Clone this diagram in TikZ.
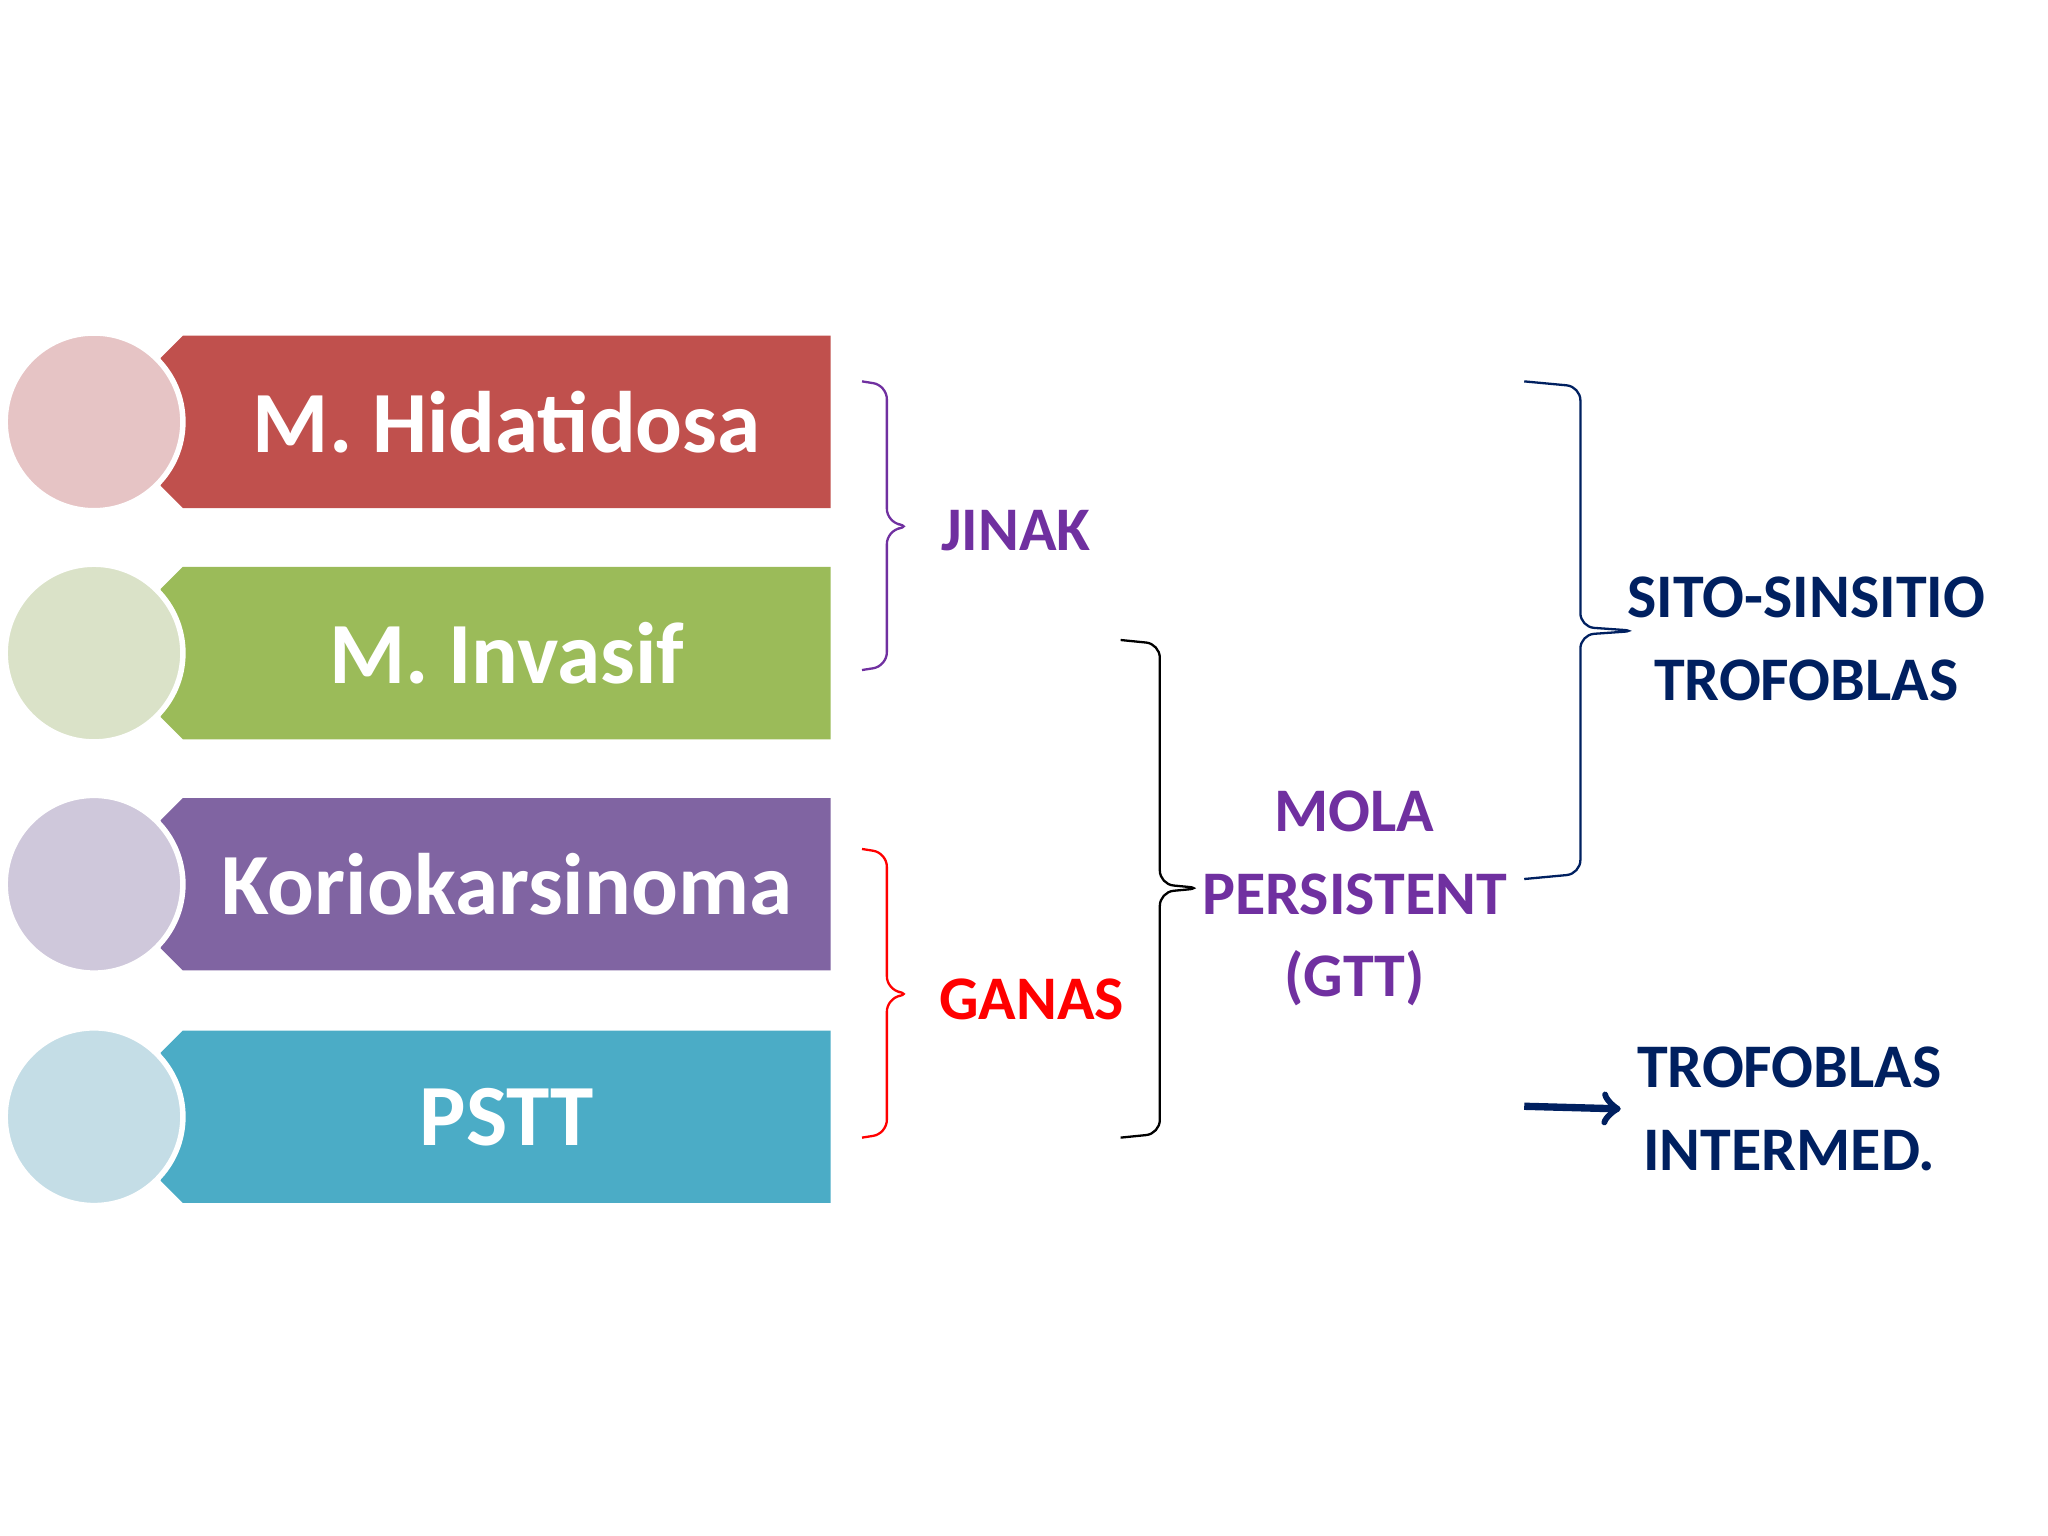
\documentclass[tikz,border=0pt]{standalone}
\usepackage{fontspec}
\setmainfont{Carlito}
\usetikzlibrary{positioning}
\definecolor{barred}{HTML}{C0504D}
\definecolor{bargreen}{HTML}{9BBB59}
\definecolor{barpurple}{HTML}{8064A2}
\definecolor{barteal}{HTML}{4BACC6}
\definecolor{labpurple}{HTML}{7030A0}
\definecolor{navy}{HTML}{002060}
\begin{document}
\begin{tikzpicture}[x=0.01cm, y=-0.01cm,
    bartext/.style={text=white, font=\bfseries\fontsize{19}{22}\selectfont},
    bubble/.style={circle, draw=white, line width=1.2pt, minimum size=1.36cm, inner sep=0pt},
    lab/.style={font=\bfseries\fontsize{13.5}{16}\selectfont, align=center},
    brace/.style={rounded corners=3pt, line width=0.5pt}]
\useasboundingbox (0,0) rectangle (1568,1176);

% Bars with circles
\foreach \y/\c/\l/\t/\n in {257/barred/E6C4C5/M. Hidatidosa/hid,
                            434/bargreen/DAE2C8/M. Invasif/inv,
                            611/barpurple/CFC8DB/Koriokarsinoma/kor,
                            789/barteal/C4DDE6/PSTT/pstt}{
  \definecolor{lite}{HTML}{\l}
  \fill[\c] (140,\y) -- (636,\y) -- ++(0,132) -- (140,\y+132) -- (123,\y+115) -- (123,\y+17) -- cycle;
  \node[bubble, fill=lite] (c\n) at (72,\y+66) {};
  \node[bartext] (\n) at (388,\y+66) {\t};
}

% Labels
\node[lab, text=labpurple] (jinak) at (778,406) {JINAK};
\node[lab, text=red] (ganas) at (790,765) {GANAS};
\node[lab, text=labpurple, align=center] (mola) at (1037,688) {MOLA\\[2pt]PERSISTENT\\[2pt](GTT)};
\node[lab, text=navy] (sito) at (1383,489) {SITO-SINSITIO\\[2pt]TROFOBLAS};
\node[lab, text=navy] (inter) at (1370,849) {TROFOBLAS\\[2pt]INTERMED.};

% Braces
\draw[brace, labpurple] (660,292) -- (679,295) -- (679,400) -- (698,403) -- (679,406) -- (679,510) -- (660,513);
\draw[brace, red] (660,650) -- (679,653) -- (679,758) -- (698,761) -- (679,764) -- (679,868) -- (660,871);
\draw[brace, black] (858,490) -- (888,493) -- (888,677) -- (920,680) -- (888,683) -- (888,868) -- (858,871);
\draw[brace, navy] (1167,292) -- (1210,296) -- (1210,480) -- (1253,483) -- (1210,486) -- (1210,669) -- (1167,673);

% Arrow
\coordinate (astart) at (1167,847);
\draw[->, navy, line width=1.6pt] (astart) -- (inter.west);
\end{tikzpicture}
\end{document}
